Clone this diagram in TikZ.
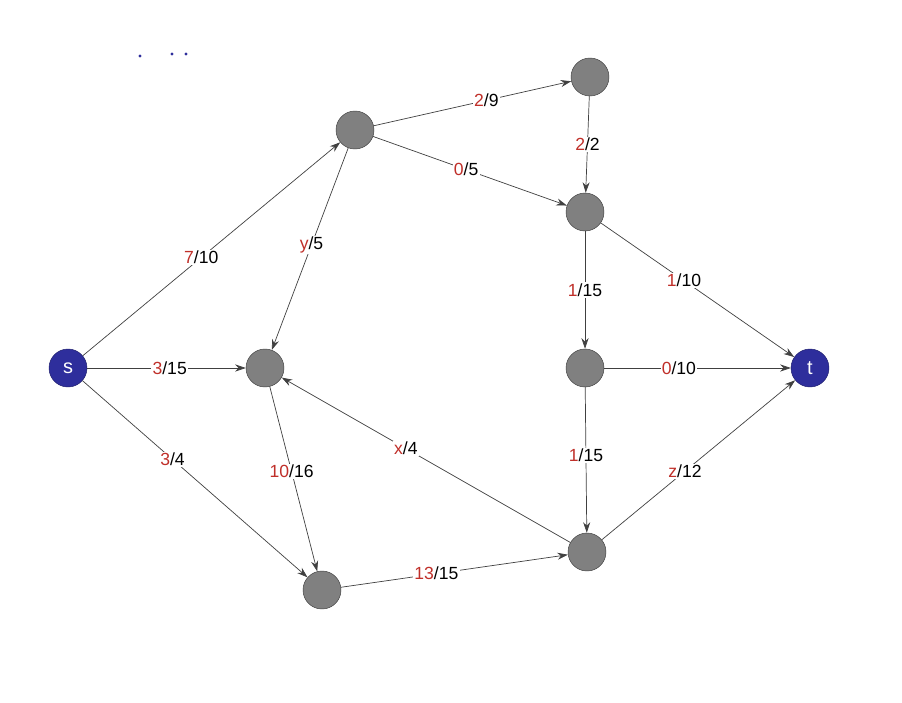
\documentclass[tikz,border=0pt]{standalone}
\usepackage{fontspec}
\setmainfont{Liberation Sans}
\usetikzlibrary{arrows.meta}
\definecolor{navy}{HTML}{2E2E9C}
\definecolor{lred}{HTML}{C0302A}
\begin{document}
\begin{tikzpicture}[x=0.03cm,y=-0.03cm,
  gnode/.style={circle,draw=black!75,fill=black!50,minimum size=0.114cm*10,inner sep=0pt},
  bnode/.style={circle,draw=navy!70!black,fill=navy,minimum size=0.114cm*10,inner sep=0pt,text=white,font=\fontsize{17}{17}\selectfont},
  edge/.style={draw=black!75,line width=0.6pt,-{Stealth[length=9pt,width=6pt]}},
  lbl/.style={fill=white,inner sep=1pt,font=\fontsize{15}{15}\selectfont}]
\useasboundingbox (0,0) rectangle (902,702);
\fill[navy] (140,56) circle (1.6) (172,54) circle (1.6) (186,54) circle (1.6);
\node[bnode] (s) at (68,368) {s};
\node[bnode] (t) at (810,368) {t};
\node[gnode] (A) at (355,130) {};
\node[gnode] (B) at (590,77) {};
\node[gnode] (C) at (585,212) {};
\node[gnode] (D) at (265,368) {};
\node[gnode] (E) at (585,368) {};
\node[gnode] (F) at (322,590) {};
\node[gnode] (G) at (587,552) {};
\newcommand{\fl}[2]{\textcolor{lred}{#1}/#2}
\draw[edge] (s) -- node[lbl,pos=0.46]{\fl{7}{10}} (A);
\draw[edge] (s) -- node[lbl,pos=0.52]{\fl{3}{15}} (D);
\draw[edge] (s) -- node[lbl,pos=0.4]{\fl{3}{4}} (F);
\draw[edge] (A) -- node[lbl,pos=0.57]{\fl{2}{9}} (B);
\draw[edge] (A) -- node[lbl,pos=0.48]{\fl{0}{5}} (C);
\draw[edge] (A) -- node[lbl,pos=0.48]{\fl{y}{5}} (D);
\draw[edge] (B) -- node[lbl,pos=0.5]{\fl{2}{2}} (C);
\draw[edge] (C) -- node[lbl,pos=0.5]{\fl{1}{15}} (E);
\draw[edge] (C) -- node[lbl,pos=0.43]{\fl{1}{10}} (t);
\draw[edge] (E) -- node[lbl,pos=0.4]{\fl{0}{10}} (t);
\draw[edge] (E) -- node[lbl,pos=0.47]{\fl{1}{15}} (G);
\draw[edge] (G) -- node[lbl,pos=0.57]{\fl{x}{4}} (D);
\draw[edge] (D) -- node[lbl,pos=0.46]{\fl{10}{16}} (F);
\draw[edge] (F) -- node[lbl,pos=0.42]{\fl{13}{15}} (G);
\draw[edge] (G) -- node[lbl,pos=0.43]{\fl{z}{12}} (t);
\end{tikzpicture}
\end{document}
